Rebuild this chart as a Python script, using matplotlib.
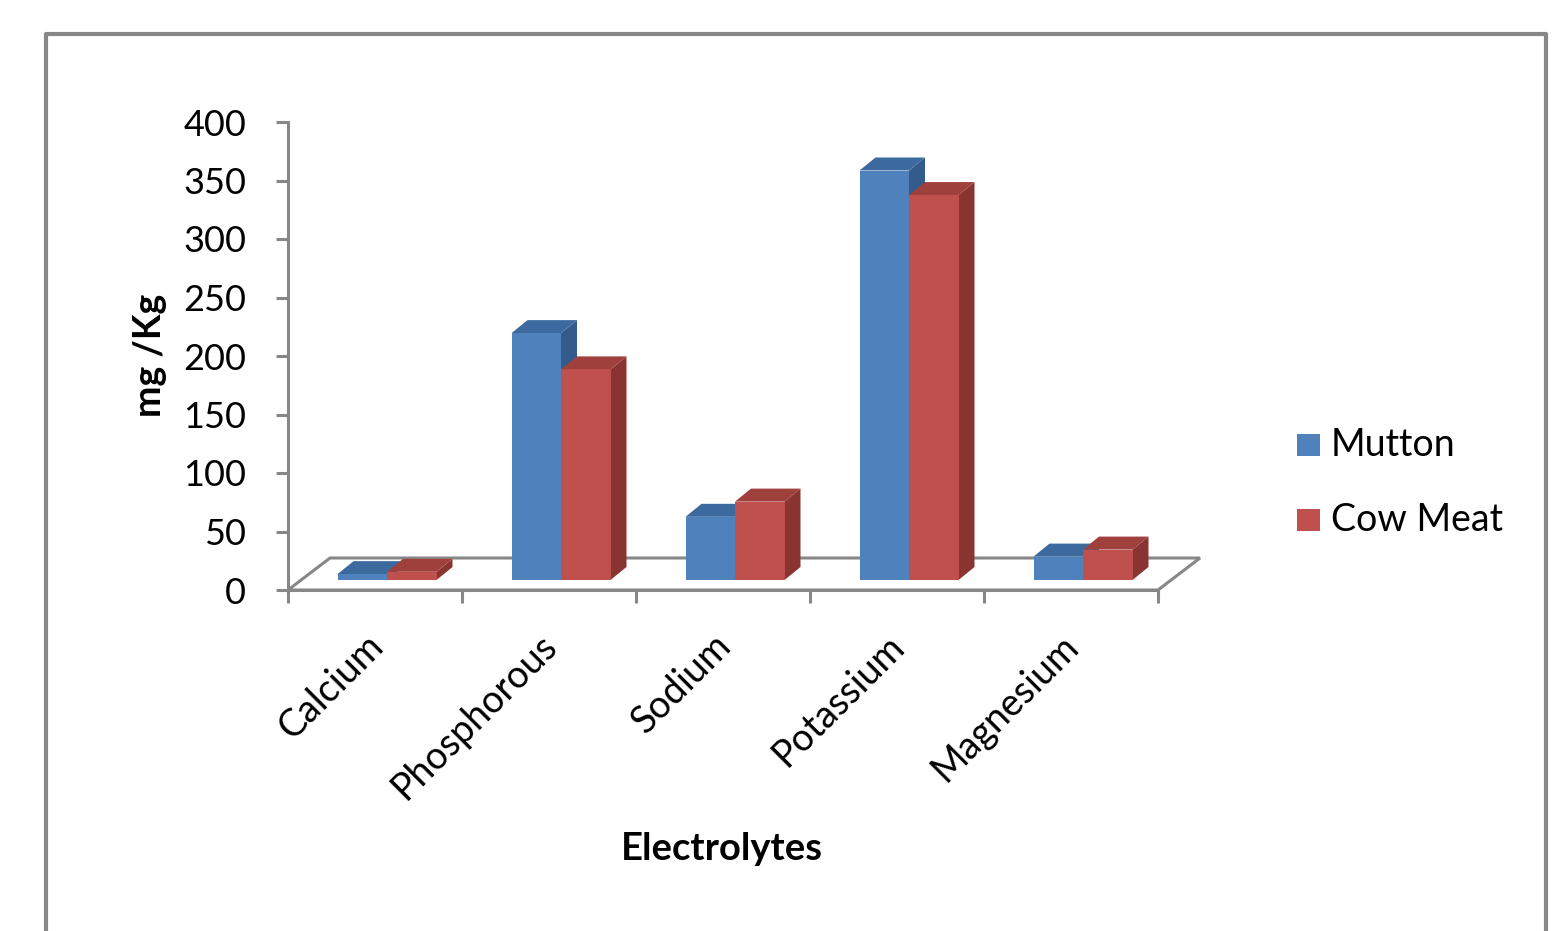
import matplotlib
matplotlib.use('Agg')
import matplotlib.pyplot as plt
from matplotlib.patches import Polygon, Rectangle
from matplotlib.lines import Line2D

plt.rcParams['font.family'] = ['Lato', 'DejaVu Sans']

categories = ['Calcium', 'Phosphorous', 'Sodium', 'Potassium', 'Magnesium']
mutton = [5, 211, 54, 350, 20]
cow_meat = [7, 180, 67, 329, 26]
series_names = ['Mutton', 'Cow Meat']
y_ticks = [0, 50, 100, 150, 200, 250, 300, 350, 400]

W, H = 1557, 931
GREY = '#878787'
front_cols = ['#4F81BD', '#C0504D']
top_cols = ['#3C6A9F', '#A0403D']
side_cols = ['#335B8C', '#8A3431']

def fx(px):
    return px / W

def fy(py):
    return 1 - py / H

fig = plt.figure(figsize=(W / 100, H / 100), dpi=100)

# outer frame of the chart area
fig.add_artist(Line2D([fx(46), fx(46), fx(1546), fx(1546)],
                      [fy(935), fy(34), fy(34), fy(935)],
                      transform=fig.transFigure, color=GREY, lw=3))

ax = fig.add_axes([fx(288), fy(590), 870 / W, 468 / H])
n = len(categories)
ax.set_xlim(0, n)
ax.set_ylim(0, 400)

# pixel -> data unit factors
kx = n / 870
ky = 400 / 468

# fake 3d depth, in pixels
off_x, off_y = 12 * kx, 10 * ky
dep_x, dep_y = 16 * kx, 13 * ky
floor_x, floor_y = 42 * kx, 32 * ky
bar_w = 49.5 * kx

floor = Polygon([(0, 0), (n, 0), (n + floor_x, floor_y), (floor_x, floor_y)],
                closed=True, facecolor='white', edgecolor=GREY, lw=2.2,
                clip_on=False, zorder=1)
ax.add_patch(floor)

for i in range(n):
    vals = [mutton[i], cow_meat[i]]
    center = i + 0.5 + off_x
    for j, v in enumerate(vals):
        x0 = center - bar_w + j * bar_w
        y0 = off_y
        side = Polygon([(x0 + bar_w, y0), (x0 + bar_w + dep_x, y0 + dep_y),
                        (x0 + bar_w + dep_x, y0 + v + dep_y), (x0 + bar_w, y0 + v)],
                       closed=True, facecolor=side_cols[j], lw=0, clip_on=False, zorder=3)
        top = Polygon([(x0, y0 + v), (x0 + bar_w, y0 + v),
                       (x0 + bar_w + dep_x, y0 + v + dep_y), (x0 + dep_x, y0 + v + dep_y)],
                      closed=True, facecolor=top_cols[j], lw=0, clip_on=False, zorder=3)
        front = Rectangle((x0, y0), bar_w, v, facecolor=front_cols[j], lw=0,
                          clip_on=False, zorder=3)
        ax.add_patch(side)
        ax.add_patch(top)
        ax.add_patch(front)

for s in ['top', 'right']:
    ax.spines[s].set_visible(False)
for s in ['left', 'bottom']:
    ax.spines[s].set_color(GREY)
    ax.spines[s].set_linewidth(2.2)
    ax.spines[s].set_zorder(2)

ax.set_yticks(y_ticks)
ax.set_yticklabels([str(t) for t in y_ticks], fontsize=26)
ax.tick_params(axis='y', direction='out', length=9, width=2.2, color=GREY, pad=21)
ax.set_xticks(range(n + 1))
ax.set_xticklabels([])
ax.tick_params(axis='x', direction='out', length=9.5, width=2.2, color=GREY)

for i, name in enumerate(categories):
    ax.text(i + 0.5 + 2 * kx, -50 * ky, name, rotation=45, ha='right', va='center',
            rotation_mode='anchor', fontsize=27, clip_on=False)

fig.text(fx(150), fy(355), 'mg /Kg', rotation=90, ha='center', va='center',
         fontsize=27, fontweight='bold')
fig.text(fx(722), fy(849), 'Electrolytes', ha='center', va='center',
         fontsize=27.5, fontweight='bold')

# legend
for j, name in enumerate(series_names):
    yc = 445 + j * 75
    fig.add_artist(Rectangle((fx(1297), fy(yc + 11)), 23 / W, 22 / H,
                             transform=fig.transFigure, facecolor=front_cols[j], lw=0))
    fig.text(fx(1331), fy(yc), name, ha='left', va='center', fontsize=27)

fig.savefig('out.png', dpi=100)
